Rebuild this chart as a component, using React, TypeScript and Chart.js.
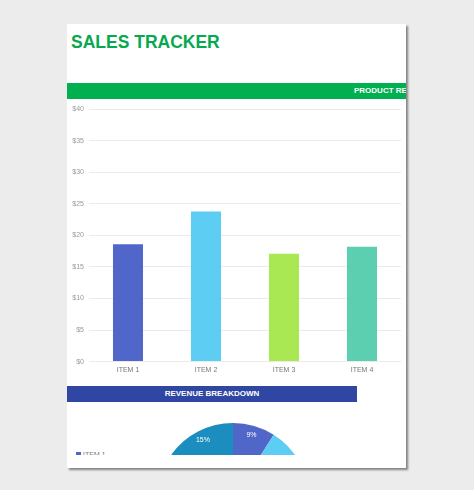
import React, { useEffect, useRef } from "react";
import { Chart, registerables } from "chart.js";

Chart.register(...registerables);

// ---- data ----
const barCategories = ["ITEM 1", "ITEM 2", "ITEM 3", "ITEM 4"];
const barValues = [18.6, 23.8, 17.1, 18.2];
const barColors = ["#5066c9", "#5ecdf4", "#a9e853", "#5dcfb1"];
const yMin = 0;
const yMax = 40;
const yStep = 5;

const pieLabels = ["ITEM 1", "ITEM 2", "ITEM 3", "ITEM 4", "ITEM 5"];
const pieValues = [9, 30, 22, 24, 15];
const pieColors = ["#5066c9", "#5ecdf4", "#a9e853", "#5dcfb1", "#1b8dbf"];

const titleText = "SALES TRACKER";
const productBanner = "PRODUCT REVENUE";
const revenueBanner = "REVENUE BREAKDOWN";

const FONT = "'Liberation Sans', Arial, Helvetica, sans-serif";

const pieLabelPlugin = {
  id: "pieLabels",
  afterDatasetsDraw(chart: any) {
    const ctx = chart.ctx;
    const meta = chart.getDatasetMeta(0);
    const data = chart.data.datasets[0].data as number[];
    const total = data.reduce((a, b) => a + b, 0);
    ctx.save();
    ctx.fillStyle = "#ffffff";
    ctx.font = `7px ${FONT}`;
    ctx.textAlign = "center";
    ctx.textBaseline = "middle";
    meta.data.forEach((arc: any, i: number) => {
      const { x, y, startAngle, endAngle, outerRadius } = arc.getProps(
        ["x", "y", "startAngle", "endAngle", "outerRadius"],
        true
      );
      const mid = (startAngle + endAngle) / 2;
      const r = outerRadius * 0.87;
      const pct = Math.round((data[i] / total) * 100);
      ctx.fillText(pct + "%", x + Math.cos(mid) * r, y + Math.sin(mid) * r);
    });
    ctx.restore();
  },
};

export default function App() {
  const barRef = useRef<HTMLCanvasElement>(null);
  const pieRef = useRef<HTMLCanvasElement>(null);

  useEffect(() => {
    const bar = new Chart(barRef.current!, {
      type: "bar",
      data: {
        labels: barCategories,
        datasets: [
          {
            data: barValues,
            backgroundColor: barColors,
            borderWidth: 0,
            barPercentage: 0.385,
            categoryPercentage: 1,
          },
        ],
      },
      options: {
        responsive: false,
        animation: false,
        layout: { padding: { top: 7, right: 5, left: 0, bottom: 12 } },
        plugins: { legend: { display: false }, tooltip: { enabled: false } },
        scales: {
          x: {
            grid: { display: false, drawTicks: false, tickLength: 0 },
            border: { display: false },
            ticks: { color: "#777", font: { size: 7, family: FONT }, padding: 4 },
          },
          y: {
            min: yMin,
            max: yMax,
            grid: { color: "#ebebeb", drawTicks: false },
            border: { display: false },
            ticks: {
              stepSize: yStep,
              color: "#999",
              font: { size: 7, family: FONT },
              padding: 5,
              callback: (v: any) => "$" + v,
            },
            afterFit: (s: any) => {
              s.width = 22;
            },
          },
        },
      },
    });

    const pie = new Chart(pieRef.current!, {
      type: "pie",
      data: {
        labels: pieLabels,
        datasets: [{ data: pieValues, backgroundColor: pieColors, borderWidth: 0 }],
      },
      options: {
        responsive: false,
        animation: false,
        plugins: { legend: { display: false }, tooltip: { enabled: false } },
      },
      plugins: [pieLabelPlugin],
    });

    return () => {
      bar.destroy();
      pie.destroy();
    };
  }, []);

  return (
    <div
      style={{
        position: "absolute",
        left: 0,
        top: 0,
        width: 474,
        height: 490,
        background: "#ececec",
        fontFamily: FONT,
        overflow: "hidden",
      }}
    >
      <div
        style={{
          position: "absolute",
          left: 67,
          top: 24,
          width: 339,
          height: 444,
          background: "#fff",
          boxShadow: "2px 2px 2px rgba(0,0,0,0.45)",
          overflow: "hidden",
        }}
      >
        <div
          style={{
            position: "absolute",
            left: 4,
            top: 9,
            fontSize: 17.5,
            lineHeight: "18px",
            fontWeight: "bold",
            color: "#06a94e",
            whiteSpace: "nowrap",
          }}
        >
          {titleText}
        </div>
        <div
          style={{
            position: "absolute",
            left: 0,
            top: 59,
            width: 339,
            height: 16,
            background: "#00b050",
          }}
        >
          <div
            style={{
              position: "absolute",
              left: 287,
              top: 0,
              lineHeight: "16px",
              fontSize: 8,
              fontWeight: "bold",
              color: "#fff",
              whiteSpace: "nowrap",
            }}
          >
            {productBanner}
          </div>
        </div>
        <canvas
          ref={barRef}
          width={339}
          height={290}
          style={{ position: "absolute", left: 0, top: 76, width: 339, height: 290 }}
        />
        <div
          style={{
            position: "absolute",
            left: 0,
            top: 362,
            width: 290,
            height: 16,
            background: "#2f47a3",
            color: "#fff",
            fontSize: 8,
            fontWeight: "bold",
            lineHeight: "16px",
            textAlign: "center",
          }}
        >
          {revenueBanner}
        </div>
        <div
          style={{
            position: "absolute",
            left: 0,
            top: 381,
            width: 339,
            height: 50,
            overflow: "hidden",
          }}
        >
          <canvas
            ref={pieRef}
            width={152}
            height={152}
            style={{ position: "absolute", left: 90, top: 18, width: 152, height: 152 }}
          />
          <div style={{ position: "absolute", left: 9, top: 43 }}>
            {pieLabels.map((l, i) => (
              <div
                key={l}
                style={{
                  display: "flex",
                  alignItems: "center",
                  height: 12,
                  fontSize: 7,
                  color: "#777",
                  whiteSpace: "nowrap",
                }}
              >
                <span
                  style={{
                    display: "inline-block",
                    width: 5,
                    height: 4,
                    background: pieColors[i],
                    marginRight: 2,
                  }}
                />
                {l}
              </div>
            ))}
          </div>
        </div>
      </div>
    </div>
  );
}
